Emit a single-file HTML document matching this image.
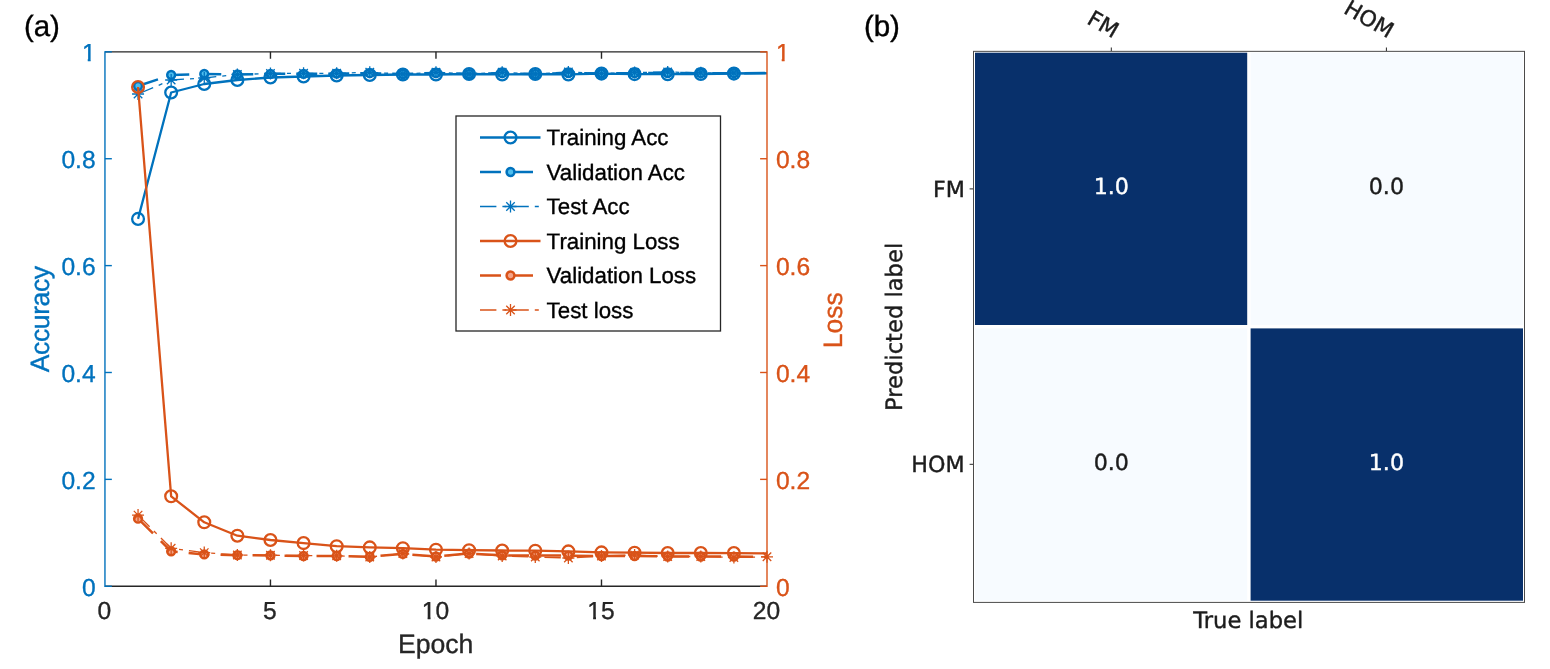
<!DOCTYPE html>
<html><head><meta charset="utf-8"><title>Training curves and confusion matrix</title>
<style>html,body{margin:0;padding:0;background:#fff}body{width:1550px;height:669px;overflow:hidden}svg{display:block}.h{font-family:"Liberation Sans",Arial,Helvetica,sans-serif}text{stroke-linejoin:round;text-rendering:geometricPrecision}.h text{stroke-width:.35px}.d text{stroke-width:.4px}.d{font-family:"DejaVu Sans",Verdana,sans-serif}</style></head><body>
<svg width="1550" height="669" viewBox="0 0 1550 669">
<rect width="1550" height="669" fill="#fff"/>
<g class="h">
<text x="23.9" y="35.8" font-size="29.5" fill="#000" stroke="#000">(a)</text>
<g stroke="#262626" stroke-width="1.4" fill="none">
<path d="M104.95 586.25H767M104.95 51.85H767"/>
<path d="M270.46 586.25v-6.8M270.46 51.85v6.8"/>
<path d="M435.97 586.25v-6.8M435.97 51.85v6.8"/>
<path d="M601.49 586.25v-6.8M601.49 51.85v6.8"/>
</g>
<clipPath id="cp"><rect x="104.95" y="43.85" width="662.05" height="550.4"/></clipPath>
<g clip-path="url(#cp)">
<polyline points="138.05,218.9 171.16,92.5 204.26,84 237.36,80 270.46,77.5 303.56,76.5 336.67,75.5 369.77,75 402.87,74.5 435.97,74.5 469.08,74 502.18,74.4 535.28,74 568.38,74.4 601.49,73.6 634.59,74.1 667.69,74.2 700.8,74 733.9,73.6 767,73.3" fill="none" stroke="#0072BD" stroke-width="2.3" stroke-linejoin="round"/>
<circle cx="138.05" cy="218.9" r="5.9" fill="none" stroke="#0072BD" stroke-width="2.3"/>
<circle cx="171.16" cy="92.5" r="5.9" fill="none" stroke="#0072BD" stroke-width="2.3"/>
<circle cx="204.26" cy="84" r="5.9" fill="none" stroke="#0072BD" stroke-width="2.3"/>
<circle cx="237.36" cy="80" r="5.9" fill="none" stroke="#0072BD" stroke-width="2.3"/>
<circle cx="270.46" cy="77.5" r="5.9" fill="none" stroke="#0072BD" stroke-width="2.3"/>
<circle cx="303.56" cy="76.5" r="5.9" fill="none" stroke="#0072BD" stroke-width="2.3"/>
<circle cx="336.67" cy="75.5" r="5.9" fill="none" stroke="#0072BD" stroke-width="2.3"/>
<circle cx="369.77" cy="75" r="5.9" fill="none" stroke="#0072BD" stroke-width="2.3"/>
<circle cx="402.87" cy="74.5" r="5.9" fill="none" stroke="#0072BD" stroke-width="2.3"/>
<circle cx="435.97" cy="74.5" r="5.9" fill="none" stroke="#0072BD" stroke-width="2.3"/>
<circle cx="469.08" cy="74" r="5.9" fill="none" stroke="#0072BD" stroke-width="2.3"/>
<circle cx="502.18" cy="74.4" r="5.9" fill="none" stroke="#0072BD" stroke-width="2.3"/>
<circle cx="535.28" cy="74" r="5.9" fill="none" stroke="#0072BD" stroke-width="2.3"/>
<circle cx="568.38" cy="74.4" r="5.9" fill="none" stroke="#0072BD" stroke-width="2.3"/>
<circle cx="601.49" cy="73.6" r="5.9" fill="none" stroke="#0072BD" stroke-width="2.3"/>
<circle cx="634.59" cy="74.1" r="5.9" fill="none" stroke="#0072BD" stroke-width="2.3"/>
<circle cx="667.69" cy="74.2" r="5.9" fill="none" stroke="#0072BD" stroke-width="2.3"/>
<circle cx="700.8" cy="74" r="5.9" fill="none" stroke="#0072BD" stroke-width="2.3"/>
<circle cx="733.9" cy="73.6" r="5.9" fill="none" stroke="#0072BD" stroke-width="2.3"/>
<polyline points="138.05,86 171.16,75 204.26,74 237.36,74.5 270.46,73.8 303.56,73.8 336.67,73.6 369.77,73.2 402.87,74 435.97,73 469.08,74 502.18,73.2 535.28,74 568.38,73 601.49,73.5 634.59,73.2 667.69,73 700.8,73.2 733.9,73.2 767,73" fill="none" stroke="#0072BD" stroke-width="2.5" stroke-dasharray="21 11" stroke-linejoin="round"/>
<circle cx="138.05" cy="86" r="3.9" fill="#4DBEEE" stroke="#0072BD" stroke-width="2.5"/>
<circle cx="171.16" cy="75" r="3.9" fill="#4DBEEE" stroke="#0072BD" stroke-width="2.5"/>
<circle cx="204.26" cy="74" r="3.9" fill="#4DBEEE" stroke="#0072BD" stroke-width="2.5"/>
<circle cx="237.36" cy="74.5" r="3.9" fill="#4DBEEE" stroke="#0072BD" stroke-width="2.5"/>
<circle cx="270.46" cy="73.8" r="3.9" fill="#4DBEEE" stroke="#0072BD" stroke-width="2.5"/>
<circle cx="303.56" cy="73.8" r="3.9" fill="#4DBEEE" stroke="#0072BD" stroke-width="2.5"/>
<circle cx="336.67" cy="73.6" r="3.9" fill="#4DBEEE" stroke="#0072BD" stroke-width="2.5"/>
<circle cx="369.77" cy="73.2" r="3.9" fill="#4DBEEE" stroke="#0072BD" stroke-width="2.5"/>
<circle cx="402.87" cy="74" r="3.9" fill="#4DBEEE" stroke="#0072BD" stroke-width="2.5"/>
<circle cx="435.97" cy="73" r="3.9" fill="#4DBEEE" stroke="#0072BD" stroke-width="2.5"/>
<circle cx="469.08" cy="74" r="3.9" fill="#4DBEEE" stroke="#0072BD" stroke-width="2.5"/>
<circle cx="502.18" cy="73.2" r="3.9" fill="#4DBEEE" stroke="#0072BD" stroke-width="2.5"/>
<circle cx="535.28" cy="74" r="3.9" fill="#4DBEEE" stroke="#0072BD" stroke-width="2.5"/>
<circle cx="568.38" cy="73" r="3.9" fill="#4DBEEE" stroke="#0072BD" stroke-width="2.5"/>
<circle cx="601.49" cy="73.5" r="3.9" fill="#4DBEEE" stroke="#0072BD" stroke-width="2.5"/>
<circle cx="634.59" cy="73.2" r="3.9" fill="#4DBEEE" stroke="#0072BD" stroke-width="2.5"/>
<circle cx="667.69" cy="73" r="3.9" fill="#4DBEEE" stroke="#0072BD" stroke-width="2.5"/>
<circle cx="700.8" cy="73.2" r="3.9" fill="#4DBEEE" stroke="#0072BD" stroke-width="2.5"/>
<circle cx="733.9" cy="73.2" r="3.9" fill="#4DBEEE" stroke="#0072BD" stroke-width="2.5"/>
<polyline points="138.05,94 171.16,80 204.26,78 237.36,74.5 270.46,73.5 303.56,73.3 336.67,73.3 369.77,72.3 402.87,74 435.97,72.3 469.08,74 502.18,72.3 535.28,74 568.38,72 601.49,73.5 634.59,72.5 667.69,72 700.8,72.8 733.9,73 767,73" fill="none" stroke="#0072BD" stroke-width="1.3" stroke-dasharray="16.4 6 4 6" stroke-linejoin="round"/>
<path d="M132.05 94H144.05M138.05 88V100M133.81 89.76L142.3 98.24M133.81 98.24L142.3 89.76" stroke="#0072BD" stroke-width="1.3" fill="none"/>
<path d="M165.16 80H177.16M171.16 74V86M166.91 75.76L175.4 84.24M166.91 84.24L175.4 75.76" stroke="#0072BD" stroke-width="1.3" fill="none"/>
<path d="M198.26 78H210.26M204.26 72V84M200.01 73.76L208.5 82.24M200.01 82.24L208.5 73.76" stroke="#0072BD" stroke-width="1.3" fill="none"/>
<path d="M231.36 74.5H243.36M237.36 68.5V80.5M233.12 70.26L241.6 78.74M233.12 78.74L241.6 70.26" stroke="#0072BD" stroke-width="1.3" fill="none"/>
<path d="M264.46 73.5H276.46M270.46 67.5V79.5M266.22 69.26L274.71 77.74M266.22 77.74L274.71 69.26" stroke="#0072BD" stroke-width="1.3" fill="none"/>
<path d="M297.56 73.3H309.56M303.56 67.3V79.3M299.32 69.06L307.81 77.54M299.32 77.54L307.81 69.06" stroke="#0072BD" stroke-width="1.3" fill="none"/>
<path d="M330.67 73.3H342.67M336.67 67.3V79.3M332.42 69.06L340.91 77.54M332.42 77.54L340.91 69.06" stroke="#0072BD" stroke-width="1.3" fill="none"/>
<path d="M363.77 72.3H375.77M369.77 66.3V78.3M365.53 68.06L374.01 76.54M365.53 76.54L374.01 68.06" stroke="#0072BD" stroke-width="1.3" fill="none"/>
<path d="M396.87 74H408.87M402.87 68V80M398.63 69.76L407.12 78.24M398.63 78.24L407.12 69.76" stroke="#0072BD" stroke-width="1.3" fill="none"/>
<path d="M429.97 72.3H441.97M435.97 66.3V78.3M431.73 68.06L440.22 76.54M431.73 76.54L440.22 68.06" stroke="#0072BD" stroke-width="1.3" fill="none"/>
<path d="M463.08 74H475.08M469.08 68V80M464.83 69.76L473.32 78.24M464.83 78.24L473.32 69.76" stroke="#0072BD" stroke-width="1.3" fill="none"/>
<path d="M496.18 72.3H508.18M502.18 66.3V78.3M497.94 68.06L506.42 76.54M497.94 76.54L506.42 68.06" stroke="#0072BD" stroke-width="1.3" fill="none"/>
<path d="M529.28 74H541.28M535.28 68V80M531.04 69.76L539.53 78.24M531.04 78.24L539.53 69.76" stroke="#0072BD" stroke-width="1.3" fill="none"/>
<path d="M562.38 72H574.38M568.38 66V78M564.14 67.76L572.63 76.24M564.14 76.24L572.63 67.76" stroke="#0072BD" stroke-width="1.3" fill="none"/>
<path d="M595.49 73.5H607.49M601.49 67.5V79.5M597.24 69.26L605.73 77.74M597.24 77.74L605.73 69.26" stroke="#0072BD" stroke-width="1.3" fill="none"/>
<path d="M628.59 72.5H640.59M634.59 66.5V78.5M630.35 68.26L638.83 76.74M630.35 76.74L638.83 68.26" stroke="#0072BD" stroke-width="1.3" fill="none"/>
<path d="M661.69 72H673.69M667.69 66V78M663.45 67.76L671.94 76.24M663.45 76.24L671.94 67.76" stroke="#0072BD" stroke-width="1.3" fill="none"/>
<path d="M694.8 72.8H706.8M700.8 66.8V78.8M696.55 68.56L705.04 77.04M696.55 77.04L705.04 68.56" stroke="#0072BD" stroke-width="1.3" fill="none"/>
<path d="M727.9 73H739.9M733.9 67V79M729.65 68.76L738.14 77.24M729.65 77.24L738.14 68.76" stroke="#0072BD" stroke-width="1.3" fill="none"/>
<polyline points="138.05,87 171.16,496.3 204.26,522.3 237.36,535.7 270.46,540 303.56,543.1 336.67,546.2 369.77,547.4 402.87,548.2 435.97,549.7 469.08,550.2 502.18,550.5 535.28,550.7 568.38,551.4 601.49,552.4 634.59,552.7 667.69,553 700.8,553 733.9,553.1 767,553.5" fill="none" stroke="#D95319" stroke-width="2.3" stroke-linejoin="round"/>
<circle cx="138.05" cy="87" r="5.9" fill="none" stroke="#D95319" stroke-width="2.3"/>
<circle cx="171.16" cy="496.3" r="5.9" fill="none" stroke="#D95319" stroke-width="2.3"/>
<circle cx="204.26" cy="522.3" r="5.9" fill="none" stroke="#D95319" stroke-width="2.3"/>
<circle cx="237.36" cy="535.7" r="5.9" fill="none" stroke="#D95319" stroke-width="2.3"/>
<circle cx="270.46" cy="540" r="5.9" fill="none" stroke="#D95319" stroke-width="2.3"/>
<circle cx="303.56" cy="543.1" r="5.9" fill="none" stroke="#D95319" stroke-width="2.3"/>
<circle cx="336.67" cy="546.2" r="5.9" fill="none" stroke="#D95319" stroke-width="2.3"/>
<circle cx="369.77" cy="547.4" r="5.9" fill="none" stroke="#D95319" stroke-width="2.3"/>
<circle cx="402.87" cy="548.2" r="5.9" fill="none" stroke="#D95319" stroke-width="2.3"/>
<circle cx="435.97" cy="549.7" r="5.9" fill="none" stroke="#D95319" stroke-width="2.3"/>
<circle cx="469.08" cy="550.2" r="5.9" fill="none" stroke="#D95319" stroke-width="2.3"/>
<circle cx="502.18" cy="550.5" r="5.9" fill="none" stroke="#D95319" stroke-width="2.3"/>
<circle cx="535.28" cy="550.7" r="5.9" fill="none" stroke="#D95319" stroke-width="2.3"/>
<circle cx="568.38" cy="551.4" r="5.9" fill="none" stroke="#D95319" stroke-width="2.3"/>
<circle cx="601.49" cy="552.4" r="5.9" fill="none" stroke="#D95319" stroke-width="2.3"/>
<circle cx="634.59" cy="552.7" r="5.9" fill="none" stroke="#D95319" stroke-width="2.3"/>
<circle cx="667.69" cy="553" r="5.9" fill="none" stroke="#D95319" stroke-width="2.3"/>
<circle cx="700.8" cy="553" r="5.9" fill="none" stroke="#D95319" stroke-width="2.3"/>
<circle cx="733.9" cy="553.1" r="5.9" fill="none" stroke="#D95319" stroke-width="2.3"/>
<polyline points="138.05,518.7 171.16,551.3 204.26,554.4 237.36,555.2 270.46,555.4 303.56,556 336.67,556 369.77,556.8 402.87,553.9 435.97,556.5 469.08,553.5 502.18,555.4 535.28,555.6 568.38,555.6 601.49,556 634.59,556 667.69,556.5 700.8,556.5 733.9,556.6 767,556.8" fill="none" stroke="#D95319" stroke-width="2.5" stroke-dasharray="21 11" stroke-linejoin="round"/>
<circle cx="138.05" cy="518.7" r="3.9" fill="#F5A488" stroke="#D95319" stroke-width="2.5"/>
<circle cx="171.16" cy="551.3" r="3.9" fill="#F5A488" stroke="#D95319" stroke-width="2.5"/>
<circle cx="204.26" cy="554.4" r="3.9" fill="#F5A488" stroke="#D95319" stroke-width="2.5"/>
<circle cx="237.36" cy="555.2" r="3.9" fill="#F5A488" stroke="#D95319" stroke-width="2.5"/>
<circle cx="270.46" cy="555.4" r="3.9" fill="#F5A488" stroke="#D95319" stroke-width="2.5"/>
<circle cx="303.56" cy="556" r="3.9" fill="#F5A488" stroke="#D95319" stroke-width="2.5"/>
<circle cx="336.67" cy="556" r="3.9" fill="#F5A488" stroke="#D95319" stroke-width="2.5"/>
<circle cx="369.77" cy="556.8" r="3.9" fill="#F5A488" stroke="#D95319" stroke-width="2.5"/>
<circle cx="402.87" cy="553.9" r="3.9" fill="#F5A488" stroke="#D95319" stroke-width="2.5"/>
<circle cx="435.97" cy="556.5" r="3.9" fill="#F5A488" stroke="#D95319" stroke-width="2.5"/>
<circle cx="469.08" cy="553.5" r="3.9" fill="#F5A488" stroke="#D95319" stroke-width="2.5"/>
<circle cx="502.18" cy="555.4" r="3.9" fill="#F5A488" stroke="#D95319" stroke-width="2.5"/>
<circle cx="535.28" cy="555.6" r="3.9" fill="#F5A488" stroke="#D95319" stroke-width="2.5"/>
<circle cx="568.38" cy="555.6" r="3.9" fill="#F5A488" stroke="#D95319" stroke-width="2.5"/>
<circle cx="601.49" cy="556" r="3.9" fill="#F5A488" stroke="#D95319" stroke-width="2.5"/>
<circle cx="634.59" cy="556" r="3.9" fill="#F5A488" stroke="#D95319" stroke-width="2.5"/>
<circle cx="667.69" cy="556.5" r="3.9" fill="#F5A488" stroke="#D95319" stroke-width="2.5"/>
<circle cx="700.8" cy="556.5" r="3.9" fill="#F5A488" stroke="#D95319" stroke-width="2.5"/>
<circle cx="733.9" cy="556.6" r="3.9" fill="#F5A488" stroke="#D95319" stroke-width="2.5"/>
<polyline points="138.05,515.1 171.16,548.3 204.26,552.6 237.36,555 270.46,555.2 303.56,555.5 336.67,555.8 369.77,557 402.87,553.5 435.97,557 469.08,553.5 502.18,556 535.28,557 568.38,558 601.49,556 634.59,555 667.69,556.5 700.8,556.5 733.9,557.5 767,556.8" fill="none" stroke="#D95319" stroke-width="1.3" stroke-dasharray="16.4 6 4 6" stroke-linejoin="round"/>
<path d="M132.05 515.1H144.05M138.05 509.1V521.1M133.81 510.86L142.3 519.34M133.81 519.34L142.3 510.86" stroke="#D95319" stroke-width="1.3" fill="none"/>
<path d="M165.16 548.3H177.16M171.16 542.3V554.3M166.91 544.06L175.4 552.54M166.91 552.54L175.4 544.06" stroke="#D95319" stroke-width="1.3" fill="none"/>
<path d="M198.26 552.6H210.26M204.26 546.6V558.6M200.01 548.36L208.5 556.84M200.01 556.84L208.5 548.36" stroke="#D95319" stroke-width="1.3" fill="none"/>
<path d="M231.36 555H243.36M237.36 549V561M233.12 550.76L241.6 559.24M233.12 559.24L241.6 550.76" stroke="#D95319" stroke-width="1.3" fill="none"/>
<path d="M264.46 555.2H276.46M270.46 549.2V561.2M266.22 550.96L274.71 559.44M266.22 559.44L274.71 550.96" stroke="#D95319" stroke-width="1.3" fill="none"/>
<path d="M297.56 555.5H309.56M303.56 549.5V561.5M299.32 551.26L307.81 559.74M299.32 559.74L307.81 551.26" stroke="#D95319" stroke-width="1.3" fill="none"/>
<path d="M330.67 555.8H342.67M336.67 549.8V561.8M332.42 551.56L340.91 560.04M332.42 560.04L340.91 551.56" stroke="#D95319" stroke-width="1.3" fill="none"/>
<path d="M363.77 557H375.77M369.77 551V563M365.53 552.76L374.01 561.24M365.53 561.24L374.01 552.76" stroke="#D95319" stroke-width="1.3" fill="none"/>
<path d="M396.87 553.5H408.87M402.87 547.5V559.5M398.63 549.26L407.12 557.74M398.63 557.74L407.12 549.26" stroke="#D95319" stroke-width="1.3" fill="none"/>
<path d="M429.97 557H441.97M435.97 551V563M431.73 552.76L440.22 561.24M431.73 561.24L440.22 552.76" stroke="#D95319" stroke-width="1.3" fill="none"/>
<path d="M463.08 553.5H475.08M469.08 547.5V559.5M464.83 549.26L473.32 557.74M464.83 557.74L473.32 549.26" stroke="#D95319" stroke-width="1.3" fill="none"/>
<path d="M496.18 556H508.18M502.18 550V562M497.94 551.76L506.42 560.24M497.94 560.24L506.42 551.76" stroke="#D95319" stroke-width="1.3" fill="none"/>
<path d="M529.28 557H541.28M535.28 551V563M531.04 552.76L539.53 561.24M531.04 561.24L539.53 552.76" stroke="#D95319" stroke-width="1.3" fill="none"/>
<path d="M562.38 558H574.38M568.38 552V564M564.14 553.76L572.63 562.24M564.14 562.24L572.63 553.76" stroke="#D95319" stroke-width="1.3" fill="none"/>
<path d="M595.49 556H607.49M601.49 550V562M597.24 551.76L605.73 560.24M597.24 560.24L605.73 551.76" stroke="#D95319" stroke-width="1.3" fill="none"/>
<path d="M628.59 555H640.59M634.59 549V561M630.35 550.76L638.83 559.24M630.35 559.24L638.83 550.76" stroke="#D95319" stroke-width="1.3" fill="none"/>
<path d="M661.69 556.5H673.69M667.69 550.5V562.5M663.45 552.26L671.94 560.74M663.45 560.74L671.94 552.26" stroke="#D95319" stroke-width="1.3" fill="none"/>
<path d="M694.8 556.5H706.8M700.8 550.5V562.5M696.55 552.26L705.04 560.74M696.55 560.74L705.04 552.26" stroke="#D95319" stroke-width="1.3" fill="none"/>
<path d="M727.9 557.5H739.9M733.9 551.5V563.5M729.65 553.26L738.14 561.74M729.65 561.74L738.14 553.26" stroke="#D95319" stroke-width="1.3" fill="none"/>
</g>
<path d="M761 556.8H773M767 550.8V562.8M762.76 552.56L771.24 561.04M762.76 561.04L771.24 552.56" stroke="#D95319" stroke-width="1.3" fill="none"/>
<g stroke="#0072BD" stroke-width="1.4" fill="none">
<path d="M104.95 51.15V586.95"/>
<path d="M104.95 586.25h6.9"/>
<path d="M104.95 479.37h6.9"/>
<path d="M104.95 372.49h6.9"/>
<path d="M104.95 265.61h6.9"/>
<path d="M104.95 158.73h6.9"/>
<path d="M104.95 51.85h6.9"/>
</g>
<g stroke="#D95319" stroke-width="1.4" fill="none">
<path d="M767 51.15V586.95"/>
<path d="M767 586.25h-6.9"/>
<path d="M767 479.37h-6.9"/>
<path d="M767 372.49h-6.9"/>
<path d="M767 265.61h-6.9"/>
<path d="M767 158.73h-6.9"/>
<path d="M767 51.85h-6.9"/>
</g>
<g font-size="24.6" fill="#0072BD" stroke="#0072BD" text-anchor="end">
<text x="95.6" y="595.6">0</text>
<text x="95.6" y="488.72">0.2</text>
<text x="95.6" y="381.84">0.4</text>
<text x="95.6" y="274.96">0.6</text>
<text x="95.6" y="168.08">0.8</text>
<clipPath id="c1_1"><path d="M75.92 36.6H155.72V58.91H75.92ZM87.76 57.91H90.63V63.2H87.76ZM95 57.91H155.72V64.2H95Z"/></clipPath>
<text x="95.6" y="61.2" clip-path="url(#c1_1)">1</text>
</g>
<g font-size="24.6" fill="#D95319" stroke="#D95319">
<text x="775.9" y="595.6">0</text>
<text x="775.9" y="488.72">0.2</text>
<text x="775.9" y="381.84">0.4</text>
<text x="775.9" y="274.96">0.6</text>
<text x="775.9" y="168.08">0.8</text>
<clipPath id="c1_2"><path d="M769.9 36.6H849.7V58.91H769.9ZM781.74 57.91H784.61V63.2H781.74ZM788.98 57.91H849.7V64.2H788.98Z"/></clipPath>
<text x="775.9" y="61.2" clip-path="url(#c1_2)">1</text>
</g>
<g font-size="24.6" fill="#262626" stroke="#262626" text-anchor="middle">
<text x="104.45" y="619.2">0</text>
<text x="269.96" y="619.2">5</text>
<clipPath id="c1_3"><path d="M415.79 594.6H495.59V616.91H415.79ZM427.63 615.91H430.5V621.2H427.63ZM434.87 615.91H495.59V622.2H434.87Z"/></clipPath>
<text x="435.47" y="619.2" clip-path="url(#c1_3)">10</text>
<clipPath id="c1_4"><path d="M581.31 594.6H661.11V616.91H581.31ZM593.14 615.91H596.02V621.2H593.14ZM600.39 615.91H661.11V622.2H600.39Z"/></clipPath>
<text x="600.99" y="619.2" clip-path="url(#c1_4)">15</text>
<text x="766.5" y="619.2">20</text>
</g>
<text x="435.6" y="653.2" font-size="26.6" fill="#262626" stroke="#262626" text-anchor="middle">Epoch</text>
<text transform="translate(48.8 319.3) rotate(-90)" letter-spacing="-0.42" font-size="26.6" fill="#0072BD" stroke="#0072BD" text-anchor="middle">Accuracy</text>
<text transform="translate(842.3 320.2) rotate(-90)" font-size="26.6" fill="#D95319" stroke="#D95319" text-anchor="middle">Loss</text>
<rect x="456" y="116" width="264.5" height="215" fill="#fff" stroke="#262626" stroke-width="1.3"/>
<path d="M480 137.5H540.5" stroke="#0072BD" stroke-width="2.3" fill="none"/>
<circle cx="510.5" cy="137.5" r="5.9" fill="none" stroke="#0072BD" stroke-width="2.3"/>
<path d="M480 172H540.5" stroke="#0072BD" stroke-width="2.5" stroke-dasharray="21 11" fill="none"/>
<circle cx="510.5" cy="172" r="3.9" fill="#4DBEEE" stroke="#0072BD" stroke-width="2.5"/>
<path d="M480 206.5H540.5" stroke="#0072BD" stroke-width="1.3" stroke-dasharray="16.4 6 4 6" fill="none"/>
<path d="M504.5 206.5H516.5M510.5 200.5V212.5M506.26 202.26L514.74 210.74M506.26 210.74L514.74 202.26" stroke="#0072BD" stroke-width="1.3" fill="none"/>
<path d="M480 241H540.5" stroke="#D95319" stroke-width="2.3" fill="none"/>
<circle cx="510.5" cy="241" r="5.9" fill="none" stroke="#D95319" stroke-width="2.3"/>
<path d="M480 275.5H540.5" stroke="#D95319" stroke-width="2.5" stroke-dasharray="21 11" fill="none"/>
<circle cx="510.5" cy="275.5" r="3.9" fill="#F5A488" stroke="#D95319" stroke-width="2.5"/>
<path d="M480 310H540.5" stroke="#D95319" stroke-width="1.3" stroke-dasharray="16.4 6 4 6" fill="none"/>
<path d="M504.5 310H516.5M510.5 304V316M506.26 305.76L514.74 314.24M506.26 314.24L514.74 305.76" stroke="#D95319" stroke-width="1.3" fill="none"/>
<g font-size="22.3" fill="#000" stroke="#000">
<text x="546.6" y="145.3">Training Acc</text>
<text x="546.6" y="179.8">Validation Acc</text>
<text x="546.6" y="214.3">Test Acc</text>
<text x="546.6" y="248.8">Training Loss</text>
<text x="546.6" y="283.3">Validation Loss</text>
<text x="546.6" y="317.8">Test loss</text>
</g>
</g>
<g class="d">
<g class="h"><text x="863.9" y="35.8" font-size="29.5" fill="#000" stroke="#000">(b)</text></g>
<rect x="975" y="52.7" width="272.2" height="272.3" fill="#08306B"/>
<rect x="1250.6" y="52.7" width="272.4" height="272.3" fill="#F7FBFF"/>
<rect x="975" y="328.4" width="272.2" height="272.3" fill="#F7FBFF"/>
<rect x="1250.6" y="328.4" width="272.4" height="272.3" fill="#08306B"/>
<rect x="973.5" y="51.35" width="551" height="551.05" fill="none" stroke="#4a4a4a" stroke-width="1"/>
<g stroke="#262626" stroke-width="1" fill="none">
<path d="M1111.3 51V47.5M1386.4 51V47.5M973 188.9H969.6M973 464.3H969.6"/>
</g>
<g font-size="22.2" text-anchor="middle">
<text x="1111.3" y="194.4" fill="#fff" stroke="#fff">1.0</text>
<text x="1386.4" y="194.4" fill="#1c1c1c" stroke="#1c1c1c">0.0</text>
<text x="1111.3" y="469.8" fill="#1c1c1c" stroke="#1c1c1c">0.0</text>
<text x="1386.4" y="469.8" fill="#fff" stroke="#fff">1.0</text>
<text x="1248.3" y="627.5" fill="#1c1c1c" stroke="#1c1c1c" font-size="22.65">True label</text>
<text transform="translate(902.4 326.9) rotate(-90)" fill="#1c1c1c" stroke="#1c1c1c" font-size="22.65">Predicted label</text>
</g>
<g font-size="22.2" text-anchor="end" fill="#1c1c1c" stroke="#1c1c1c">
<text x="964.8" y="196.9">FM</text>
<text x="964.6" y="472.3">HOM</text>
<text transform="translate(1113.1 38.7) rotate(30)" font-size="21.9">FM</text>
<text transform="translate(1388.1 38.7) rotate(30)" font-size="21.9">HOM</text>
</g>
</g>
</svg></body></html>
